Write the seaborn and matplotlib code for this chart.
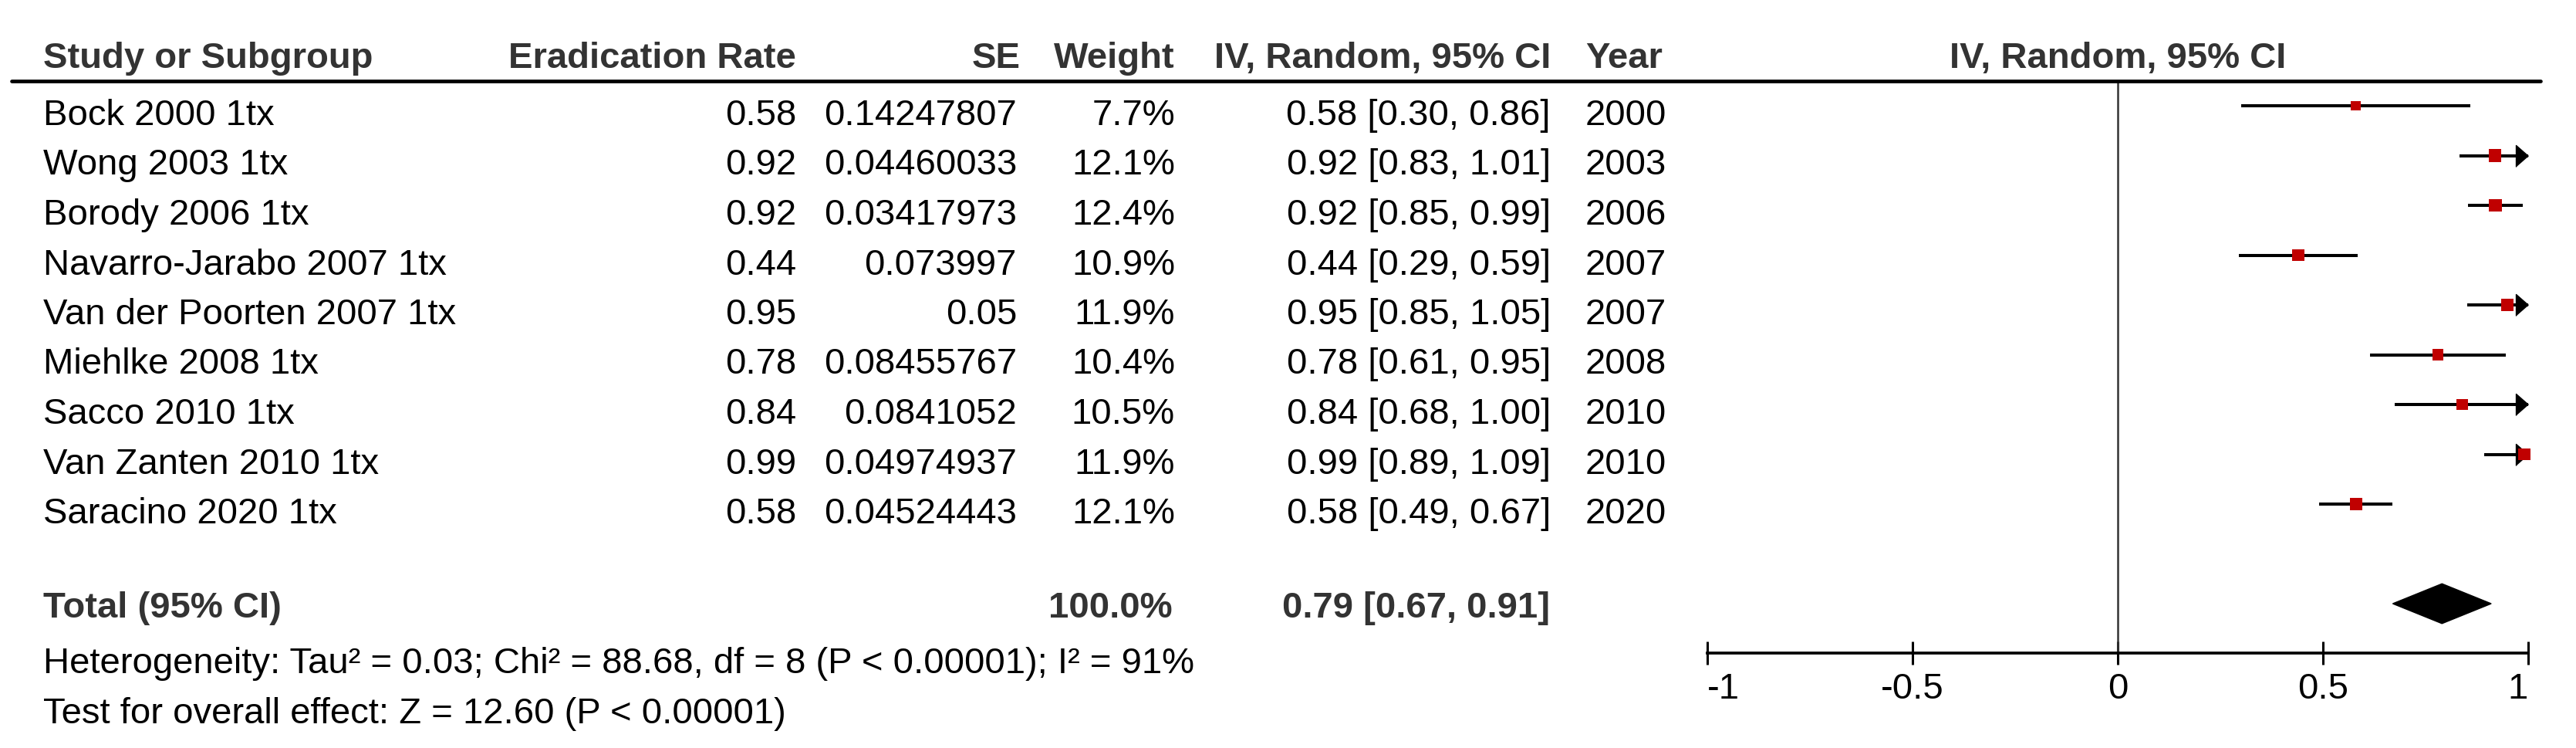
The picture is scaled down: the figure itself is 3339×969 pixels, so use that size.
import numpy as np
import pandas as pd
import matplotlib
matplotlib.use("Agg")
import matplotlib.pyplot as plt
from matplotlib import transforms
import seaborn as sns

# Study data
studies = ["Bock 2000 1tx", "Wong 2003 1tx", "Borody 2006 1tx", "Navarro-Jarabo 2007 1tx",
           "Van der Poorten 2007 1tx", "Miehlke 2008 1tx", "Sacco 2010 1tx",
           "Van Zanten 2010 1tx", "Saracino 2020 1tx"]
rates = [0.58, 0.92, 0.92, 0.44, 0.95, 0.78, 0.84, 0.99, 0.58]
se = [0.14247807, 0.04460033, 0.03417973, 0.073997, 0.05, 0.08455767, 0.0841052, 0.04974937, 0.04524443]
weights = [7.7, 12.1, 12.4, 10.9, 11.9, 10.4, 10.5, 11.9, 12.1]
years = [2000, 2003, 2006, 2007, 2007, 2008, 2010, 2010, 2020]

total_weight = 100.0
total_est, total_lo, total_hi = 0.79, 0.67, 0.91
heterogeneity = "Heterogeneity: Tau² = 0.03; Chi² = 88.68, df = 8 (P < 0.00001); I² = 91%"
overall = "Test for overall effect: Z = 12.60 (P < 0.00001)"
ticks = [-1, -0.5, 0, 0.5, 1]
tick_labels = ["-1", "-0.5", "0", "0.5", "1"]

df = pd.DataFrame({"study": studies, "rate": rates, "se": se, "weight": weights, "year": years})
df["lo"] = df["rate"] - 1.96 * df["se"]
df["hi"] = df["rate"] + 1.96 * df["se"]
df["row"] = np.arange(len(df))

sns.set_style("white")
plt.rcParams["font.family"] = ["Liberation Sans", "DejaVu Sans"]
FS = 34
DARK = "#333333"

# layout in pixels (figure is 3339 x 969 at dpi 100)
W, H = 3339, 969
ROW0, ROWH = 137, 64.5
def row(px):
    return (px - ROW0) / ROWH

fig = plt.figure(figsize=(W / 100, H / 100), dpi=100)
ax = fig.add_axes([2213 / W, (H - 846) / H, 1064 / W, (846 - 105) / H])

# CI lines, arrows where the interval runs past 1
ax.hlines(df["row"], df["lo"], np.minimum(df["hi"], 1), color="black", lw=2.9, zorder=2, clip_on=False)
over = df[df["hi"] > 1]
arrow = [(-16, -14), (-16, 14), (0, 0)]
ax.plot(np.ones(len(over)), over["row"], ls="none", marker=arrow, ms=23,
        color="black", zorder=3, clip_on=False)

# weight squares
side_pt = 4.6 * np.sqrt(df["weight"]) * 0.72
sns.scatterplot(x=df["rate"], y=df["row"], s=side_pt ** 2, marker="s", color="#C00000",
                linewidth=0, ax=ax, zorder=4, clip_on=False, legend=False)

# pooled diamond
r = 10.0
hh = 0.4
ax.fill([total_lo, total_est, total_hi, total_est], [r, r - hh, r, r + hh], color="black", zorder=3)

ax.axvline(0, color=DARK, lw=1.8, zorder=1)
ax.set_xlim(-1, 1)
ax.set_ylim(row(846), row(105))
for s in ["top", "left", "right"]:
    ax.spines[s].set_visible(False)
ax.spines["bottom"].set_color("black")
ax.spines["bottom"].set_linewidth(2.7)
ax.set_yticks([])
ax.set_xticks(ticks)
ax.set_xticklabels([])
ax.tick_params(axis="x", direction="inout", length=22, width=2.2, color="black", bottom=True)
ax.set_xlabel("")
ax.set_ylabel("")

for t, lab in zip(ticks, tick_labels):
    ha = "left" if t == ticks[0] else ("right" if t == ticks[-1] else "center")
    ax.text(t, row(905), lab, ha=ha, va="baseline", fontsize=FS, color="black")

tr = transforms.blended_transform_factory(fig.transFigure, ax.transData)

def put(px, y, s, ha, **kw):
    ax.text(px / W, y, s, ha=ha, va="baseline", fontsize=FS, transform=tr, clip_on=False, **kw)

# header
hy = row(88)
bold = dict(fontweight="bold", color=DARK)
put(56, hy, "Study or Subgroup", "left", **bold)
put(1032, hy, "Eradication Rate", "right", **bold)
put(1323, hy, "SE", "right", **bold)
put(1523, hy, "Weight", "right", **bold)
put(2010, hy, "IV, Random, 95% CI", "right", **bold)
put(2055, hy, "Year", "left", **bold)
ax.text(0, hy, "IV, Random, 95% CI", ha="center", va="baseline", fontsize=FS, **bold)
ax.plot([15 / W, 3293 / W], [row(105)] * 2, transform=tr, color="black", lw=3.4, clip_on=False)

# study rows
for _, d in df.iterrows():
    y = d["row"] + 25 / ROWH
    put(56, y, d["study"], "left", color="black")
    put(1032, y, f"{d['rate']:.2f}", "right", color="black")
    put(1318, y, str(d["se"]), "right", color="black")
    put(1523, y, f"{d['weight']:.1f}%", "right", color="black")
    put(2010, y, f"{d['rate']:.2f} [{d['lo']:.2f}, {d['hi']:.2f}]", "right", color="black")
    put(2055, y, str(d["year"]), "left", color="black")

# total row and footer
ty = row(800)
put(56, ty, "Total (95% CI)", "left", **bold)
put(1520, ty, f"{total_weight:.1f}%", "right", **bold)
put(2009, ty, f"{total_est:.2f} [{total_lo:.2f}, {total_hi:.2f}]", "right", **bold)
put(56, row(872), heterogeneity, "left", color="black")
put(56, row(937), overall, "left", color="black")

fig.savefig("out.png", dpi=100, facecolor="white")
